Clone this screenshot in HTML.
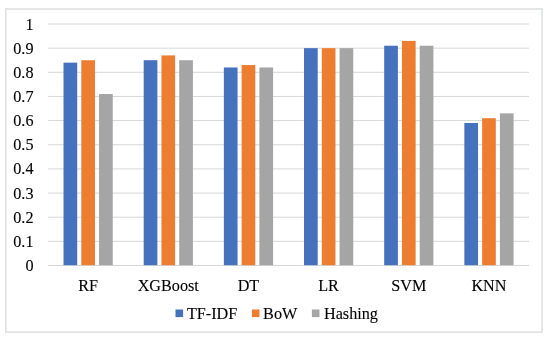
<!DOCTYPE html>
<html><head><meta charset="utf-8"><title>chart</title>
<style>
html,body{margin:0;padding:0;background:#fff;}
body{width:550px;height:340px;overflow:hidden;}
svg{display:block;}
text{font-family:"Liberation Serif","Times New Roman",serif;font-size:16.2px;fill:#000;stroke:#000;stroke-width:0.1px;}
</style></head><body>
<svg width="550" height="340" viewBox="0 0 550 340">
<rect x="0" y="0" width="550" height="340" fill="#fff"/>
<rect x="5.8" y="9" width="536.3" height="323.1" fill="#fff" stroke="#dfe1e0" stroke-width="1.6"/>

<line x1="48.0" y1="265.50" x2="529.0" y2="265.50" stroke="#d6d8d8" stroke-width="1"/>
<text x="33.5" y="271.00" text-anchor="end">0</text>
<line x1="48.0" y1="241.35" x2="529.0" y2="241.35" stroke="#d6d8d8" stroke-width="1"/>
<text x="33.5" y="246.85" text-anchor="end">0.1</text>
<line x1="48.0" y1="217.20" x2="529.0" y2="217.20" stroke="#d6d8d8" stroke-width="1"/>
<text x="33.5" y="222.70" text-anchor="end">0.2</text>
<line x1="48.0" y1="193.05" x2="529.0" y2="193.05" stroke="#d6d8d8" stroke-width="1"/>
<text x="33.5" y="198.55" text-anchor="end">0.3</text>
<line x1="48.0" y1="168.90" x2="529.0" y2="168.90" stroke="#d6d8d8" stroke-width="1"/>
<text x="33.5" y="174.40" text-anchor="end">0.4</text>
<line x1="48.0" y1="144.75" x2="529.0" y2="144.75" stroke="#d6d8d8" stroke-width="1"/>
<text x="33.5" y="150.25" text-anchor="end">0.5</text>
<line x1="48.0" y1="120.60" x2="529.0" y2="120.60" stroke="#d6d8d8" stroke-width="1"/>
<text x="33.5" y="126.10" text-anchor="end">0.6</text>
<line x1="48.0" y1="96.45" x2="529.0" y2="96.45" stroke="#d6d8d8" stroke-width="1"/>
<text x="33.5" y="101.95" text-anchor="end">0.7</text>
<line x1="48.0" y1="72.30" x2="529.0" y2="72.30" stroke="#d6d8d8" stroke-width="1"/>
<text x="33.5" y="77.80" text-anchor="end">0.8</text>
<line x1="48.0" y1="48.15" x2="529.0" y2="48.15" stroke="#d6d8d8" stroke-width="1"/>
<text x="33.5" y="53.65" text-anchor="end">0.9</text>
<line x1="48.0" y1="24.00" x2="529.0" y2="24.00" stroke="#d6d8d8" stroke-width="1"/>
<text x="33.5" y="29.50" text-anchor="end">1</text>
<rect x="63.52" y="62.64" width="13.69" height="202.56" fill="#4571bd"/>
<rect x="81.29" y="60.22" width="13.69" height="204.97" fill="#ed7d31"/>
<rect x="99.06" y="94.03" width="13.69" height="171.16" fill="#a5a5a5"/>
<text x="88.08" y="290.8" text-anchor="middle">RF</text>
<rect x="143.69" y="60.22" width="13.69" height="204.97" fill="#4571bd"/>
<rect x="161.45" y="55.40" width="13.69" height="209.80" fill="#ed7d31"/>
<rect x="179.22" y="60.22" width="13.69" height="204.97" fill="#a5a5a5"/>
<text x="168.25" y="290.8" text-anchor="middle">XGBoost</text>
<rect x="223.85" y="67.47" width="13.69" height="197.73" fill="#4571bd"/>
<rect x="241.62" y="65.06" width="13.69" height="200.14" fill="#ed7d31"/>
<rect x="259.39" y="67.47" width="13.69" height="197.73" fill="#a5a5a5"/>
<text x="248.42" y="290.8" text-anchor="middle">DT</text>
<rect x="304.02" y="48.15" width="13.69" height="217.05" fill="#4571bd"/>
<rect x="321.79" y="48.15" width="13.69" height="217.05" fill="#ed7d31"/>
<rect x="339.56" y="48.15" width="13.69" height="217.05" fill="#a5a5a5"/>
<text x="328.58" y="290.8" text-anchor="middle">LR</text>
<rect x="384.19" y="45.73" width="13.69" height="219.47" fill="#4571bd"/>
<rect x="401.95" y="40.91" width="13.69" height="224.29" fill="#ed7d31"/>
<rect x="419.72" y="45.73" width="13.69" height="219.47" fill="#a5a5a5"/>
<text x="408.75" y="290.8" text-anchor="middle">SVM</text>
<rect x="464.35" y="123.02" width="13.69" height="142.18" fill="#4571bd"/>
<rect x="482.12" y="118.19" width="13.69" height="147.01" fill="#ed7d31"/>
<rect x="499.89" y="113.35" width="13.69" height="151.84" fill="#a5a5a5"/>
<text x="488.92" y="290.8" text-anchor="middle">KNN</text>
<rect x="175.5" y="309.5" width="7.6" height="7.6" fill="#4571bd"/>
<text x="186.9" y="319.2">TF-IDF</text>
<rect x="251.9" y="309.5" width="7.6" height="7.6" fill="#ed7d31"/>
<text x="263.1" y="319.2">BoW</text>
<rect x="311.9" y="309.5" width="7.6" height="7.6" fill="#a5a5a5"/>
<text x="324.0" y="319.2">Hashing</text>
</svg></body></html>
